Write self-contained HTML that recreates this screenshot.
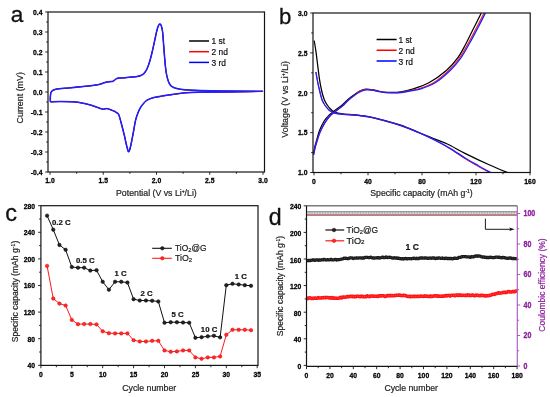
<!DOCTYPE html>
<html><head><meta charset="utf-8"><style>html,body{margin:0;padding:0;background:#fff;width:550px;height:397px;overflow:hidden}</style></head><body>
<svg width="550" height="397" viewBox="0 0 550 397" style="display:block;filter:blur(0.2px)">
<rect width="550" height="397" fill="#ffffff"/>
<g font-family='"Liberation Sans", sans-serif'>
<text x="10.80" y="21.60" font-size="22.6" text-anchor="start" font-weight="normal" fill="#111" stroke="#111" stroke-width="0.3" >a</text>
<path d="M50.30,101.50 C50.32,100.58 50.25,97.58 50.40,96.00 C50.55,94.42 50.68,93.00 51.20,92.00 C51.72,91.00 52.53,90.50 53.50,90.00 C54.47,89.50 55.58,89.27 57.00,89.00 C58.42,88.73 60.07,88.58 62.00,88.40 C63.93,88.22 65.60,88.17 68.60,87.90 C71.60,87.63 76.05,87.20 80.00,86.80 C83.95,86.40 88.97,85.93 92.30,85.50 C95.63,85.07 98.05,84.65 100.00,84.20 C101.95,83.75 102.83,83.18 104.00,82.80 C105.17,82.42 106.00,82.10 107.00,81.90 C108.00,81.70 109.10,81.68 110.00,81.60 C110.90,81.52 111.65,81.63 112.40,81.40 C113.15,81.17 113.82,80.67 114.50,80.20 C115.18,79.73 115.75,78.95 116.50,78.60 C117.25,78.25 117.58,78.25 119.00,78.10 C120.42,77.95 123.00,77.87 125.00,77.70 C127.00,77.53 129.00,77.30 131.00,77.10 C133.00,76.90 135.50,76.72 137.00,76.50 C138.50,76.28 138.97,76.18 140.00,75.80 C141.03,75.42 142.23,75.00 143.20,74.20 C144.17,73.40 144.98,72.33 145.80,71.00 C146.62,69.67 147.33,68.20 148.10,66.20 C148.87,64.20 149.67,61.62 150.40,59.00 C151.13,56.38 151.77,53.67 152.50,50.50 C153.23,47.33 154.05,43.42 154.80,40.00 C155.55,36.58 156.35,32.47 157.00,30.00 C157.65,27.53 158.22,26.20 158.70,25.20 C159.18,24.20 159.48,23.95 159.90,24.00 C160.32,24.05 160.75,24.17 161.20,25.50 C161.65,26.83 162.17,28.42 162.60,32.00 C163.03,35.58 163.40,42.00 163.80,47.00 C164.20,52.00 164.60,57.75 165.00,62.00 C165.40,66.25 165.73,69.58 166.20,72.50 C166.67,75.42 167.23,77.58 167.80,79.50 C168.37,81.42 168.90,82.82 169.60,84.00 C170.30,85.18 170.77,85.83 172.00,86.60 C173.23,87.37 174.83,88.07 177.00,88.60 C179.17,89.13 181.17,89.48 185.00,89.80 C188.83,90.12 192.50,90.28 200.00,90.50 C207.50,90.72 219.50,90.97 230.00,91.10 C240.50,91.23 263.00,91.17 263.00,91.30 C263.00,91.43 240.50,91.75 230.00,91.90 C219.50,92.05 207.50,92.05 200.00,92.20 C192.50,92.35 189.67,92.40 185.00,92.80 C180.33,93.20 176.17,94.00 172.00,94.60 C167.83,95.20 163.18,95.87 160.00,96.40 C156.82,96.93 155.07,97.17 152.90,97.80 C150.73,98.43 148.57,99.25 147.00,100.20 C145.43,101.15 144.58,102.28 143.50,103.50 C142.42,104.72 141.43,105.92 140.50,107.50 C139.57,109.08 138.73,110.83 137.90,113.00 C137.07,115.17 136.22,117.50 135.50,120.50 C134.78,123.50 134.27,127.42 133.60,131.00 C132.93,134.58 132.13,138.92 131.50,142.00 C130.87,145.08 130.28,147.87 129.80,149.50 C129.32,151.13 128.98,151.88 128.60,151.80 C128.22,151.72 127.93,150.47 127.50,149.00 C127.07,147.53 126.50,145.17 126.00,143.00 C125.50,140.83 125.08,138.50 124.50,136.00 C123.92,133.50 123.12,130.42 122.50,128.00 C121.88,125.58 121.43,123.75 120.80,121.50 C120.17,119.25 119.42,115.98 118.70,114.50 C117.98,113.02 117.22,113.13 116.50,112.60 C115.78,112.07 115.37,111.77 114.40,111.30 C113.43,110.83 111.67,110.20 110.70,109.80 C109.73,109.40 109.30,109.12 108.60,108.90 C107.90,108.68 107.18,108.50 106.50,108.50 C105.82,108.50 105.17,108.80 104.50,108.90 C103.83,109.00 103.92,109.43 102.50,109.10 C101.08,108.77 98.15,107.62 96.00,106.90 C93.85,106.18 91.93,105.45 89.60,104.80 C87.27,104.15 84.42,103.48 82.00,103.00 C79.58,102.52 78.68,102.15 75.10,101.90 C71.52,101.65 64.63,101.52 60.50,101.50 C56.37,101.48 52.00,101.75 50.30,101.80" fill="none" stroke="#000000" stroke-width="1.0" stroke-linejoin="round"/>
<path d="M50.30,101.65 C50.32,100.73 50.25,97.73 50.40,96.15 C50.55,94.57 50.68,93.15 51.20,92.15 C51.72,91.15 52.53,90.65 53.50,90.15 C54.47,89.65 55.58,89.42 57.00,89.15 C58.42,88.88 60.07,88.73 62.00,88.55 C63.93,88.37 65.60,88.32 68.60,88.05 C71.60,87.78 76.05,87.35 80.00,86.95 C83.95,86.55 88.97,86.08 92.30,85.65 C95.63,85.22 98.05,84.80 100.00,84.35 C101.95,83.90 102.83,83.33 104.00,82.95 C105.17,82.57 106.00,82.25 107.00,82.05 C108.00,81.85 109.10,81.83 110.00,81.75 C110.90,81.67 111.65,81.78 112.40,81.55 C113.15,81.32 113.82,80.82 114.50,80.35 C115.18,79.88 115.75,79.10 116.50,78.75 C117.25,78.40 117.58,78.40 119.00,78.25 C120.42,78.10 123.00,78.02 125.00,77.85 C127.00,77.68 129.00,77.45 131.00,77.25 C133.00,77.05 135.50,76.87 137.00,76.65 C138.50,76.43 138.97,76.33 140.00,75.95 C141.03,75.57 142.23,75.15 143.20,74.35 C144.17,73.55 144.98,72.48 145.80,71.15 C146.62,69.82 147.33,68.35 148.10,66.35 C148.87,64.35 149.67,61.77 150.40,59.15 C151.13,56.53 151.77,53.82 152.50,50.65 C153.23,47.48 154.05,43.57 154.80,40.15 C155.55,36.73 156.35,32.62 157.00,30.15 C157.65,27.68 158.22,26.35 158.70,25.35 C159.18,24.35 159.48,24.10 159.90,24.15 C160.32,24.20 160.75,24.32 161.20,25.65 C161.65,26.98 162.17,28.57 162.60,32.15 C163.03,35.73 163.40,42.15 163.80,47.15 C164.20,52.15 164.60,57.90 165.00,62.15 C165.40,66.40 165.73,69.73 166.20,72.65 C166.67,75.57 167.23,77.73 167.80,79.65 C168.37,81.57 168.90,82.97 169.60,84.15 C170.30,85.33 170.77,85.98 172.00,86.75 C173.23,87.52 174.83,88.22 177.00,88.75 C179.17,89.28 181.17,89.63 185.00,89.95 C188.83,90.27 192.50,90.43 200.00,90.65 C207.50,90.87 219.50,91.12 230.00,91.25 C240.50,91.38 263.00,91.32 263.00,91.45 C263.00,91.58 240.50,91.90 230.00,92.05 C219.50,92.20 207.50,92.20 200.00,92.35 C192.50,92.50 189.67,92.55 185.00,92.95 C180.33,93.35 176.17,94.15 172.00,94.75 C167.83,95.35 163.18,96.02 160.00,96.55 C156.82,97.08 155.07,97.32 152.90,97.95 C150.73,98.58 148.57,99.40 147.00,100.35 C145.43,101.30 144.58,102.43 143.50,103.65 C142.42,104.87 141.43,106.07 140.50,107.65 C139.57,109.23 138.73,110.98 137.90,113.15 C137.07,115.32 136.22,117.65 135.50,120.65 C134.78,123.65 134.27,127.57 133.60,131.15 C132.93,134.73 132.13,139.07 131.50,142.15 C130.87,145.23 130.28,148.02 129.80,149.65 C129.32,151.28 128.98,152.03 128.60,151.95 C128.22,151.87 127.93,150.62 127.50,149.15 C127.07,147.68 126.50,145.32 126.00,143.15 C125.50,140.98 125.08,138.65 124.50,136.15 C123.92,133.65 123.12,130.57 122.50,128.15 C121.88,125.73 121.43,123.90 120.80,121.65 C120.17,119.40 119.42,116.13 118.70,114.65 C117.98,113.17 117.22,113.28 116.50,112.75 C115.78,112.22 115.37,111.92 114.40,111.45 C113.43,110.98 111.67,110.35 110.70,109.95 C109.73,109.55 109.30,109.27 108.60,109.05 C107.90,108.83 107.18,108.65 106.50,108.65 C105.82,108.65 105.17,108.95 104.50,109.05 C103.83,109.15 103.92,109.58 102.50,109.25 C101.08,108.92 98.15,107.77 96.00,107.05 C93.85,106.33 91.93,105.60 89.60,104.95 C87.27,104.30 84.42,103.63 82.00,103.15 C79.58,102.67 78.68,102.30 75.10,102.05 C71.52,101.80 64.63,101.67 60.50,101.65 C56.37,101.63 52.00,101.90 50.30,101.95" fill="none" stroke="#ff2020" stroke-width="1.0" stroke-linejoin="round"/>
<path d="M50.30,101.50 C50.32,100.58 50.25,97.58 50.40,96.00 C50.55,94.42 50.68,93.00 51.20,92.00 C51.72,91.00 52.53,90.50 53.50,90.00 C54.47,89.50 55.58,89.27 57.00,89.00 C58.42,88.73 60.07,88.58 62.00,88.40 C63.93,88.22 65.60,88.17 68.60,87.90 C71.60,87.63 76.05,87.20 80.00,86.80 C83.95,86.40 88.97,85.93 92.30,85.50 C95.63,85.07 98.05,84.65 100.00,84.20 C101.95,83.75 102.83,83.18 104.00,82.80 C105.17,82.42 106.00,82.10 107.00,81.90 C108.00,81.70 109.10,81.68 110.00,81.60 C110.90,81.52 111.65,81.63 112.40,81.40 C113.15,81.17 113.82,80.67 114.50,80.20 C115.18,79.73 115.75,78.95 116.50,78.60 C117.25,78.25 117.58,78.25 119.00,78.10 C120.42,77.95 123.00,77.87 125.00,77.70 C127.00,77.53 129.00,77.30 131.00,77.10 C133.00,76.90 135.50,76.72 137.00,76.50 C138.50,76.28 138.97,76.18 140.00,75.80 C141.03,75.42 142.23,75.00 143.20,74.20 C144.17,73.40 144.98,72.33 145.80,71.00 C146.62,69.67 147.33,68.20 148.10,66.20 C148.87,64.20 149.67,61.62 150.40,59.00 C151.13,56.38 151.77,53.67 152.50,50.50 C153.23,47.33 154.05,43.42 154.80,40.00 C155.55,36.58 156.35,32.47 157.00,30.00 C157.65,27.53 158.22,26.20 158.70,25.20 C159.18,24.20 159.48,23.95 159.90,24.00 C160.32,24.05 160.75,24.17 161.20,25.50 C161.65,26.83 162.17,28.42 162.60,32.00 C163.03,35.58 163.40,42.00 163.80,47.00 C164.20,52.00 164.60,57.75 165.00,62.00 C165.40,66.25 165.73,69.58 166.20,72.50 C166.67,75.42 167.23,77.58 167.80,79.50 C168.37,81.42 168.90,82.82 169.60,84.00 C170.30,85.18 170.77,85.83 172.00,86.60 C173.23,87.37 174.83,88.07 177.00,88.60 C179.17,89.13 181.17,89.48 185.00,89.80 C188.83,90.12 192.50,90.28 200.00,90.50 C207.50,90.72 219.50,90.97 230.00,91.10 C240.50,91.23 263.00,91.17 263.00,91.30 C263.00,91.43 240.50,91.75 230.00,91.90 C219.50,92.05 207.50,92.05 200.00,92.20 C192.50,92.35 189.67,92.40 185.00,92.80 C180.33,93.20 176.17,94.00 172.00,94.60 C167.83,95.20 163.18,95.87 160.00,96.40 C156.82,96.93 155.07,97.17 152.90,97.80 C150.73,98.43 148.57,99.25 147.00,100.20 C145.43,101.15 144.58,102.28 143.50,103.50 C142.42,104.72 141.43,105.92 140.50,107.50 C139.57,109.08 138.73,110.83 137.90,113.00 C137.07,115.17 136.22,117.50 135.50,120.50 C134.78,123.50 134.27,127.42 133.60,131.00 C132.93,134.58 132.13,138.92 131.50,142.00 C130.87,145.08 130.28,147.87 129.80,149.50 C129.32,151.13 128.98,151.88 128.60,151.80 C128.22,151.72 127.93,150.47 127.50,149.00 C127.07,147.53 126.50,145.17 126.00,143.00 C125.50,140.83 125.08,138.50 124.50,136.00 C123.92,133.50 123.12,130.42 122.50,128.00 C121.88,125.58 121.43,123.75 120.80,121.50 C120.17,119.25 119.42,115.98 118.70,114.50 C117.98,113.02 117.22,113.13 116.50,112.60 C115.78,112.07 115.37,111.77 114.40,111.30 C113.43,110.83 111.67,110.20 110.70,109.80 C109.73,109.40 109.30,109.12 108.60,108.90 C107.90,108.68 107.18,108.50 106.50,108.50 C105.82,108.50 105.17,108.80 104.50,108.90 C103.83,109.00 103.92,109.43 102.50,109.10 C101.08,108.77 98.15,107.62 96.00,106.90 C93.85,106.18 91.93,105.45 89.60,104.80 C87.27,104.15 84.42,103.48 82.00,103.00 C79.58,102.52 78.68,102.15 75.10,101.90 C71.52,101.65 64.63,101.52 60.50,101.50 C56.37,101.48 52.00,101.75 50.30,101.80" fill="none" stroke="#1f1fff" stroke-width="1.55" stroke-linejoin="round"/>
<rect x="48" y="12" width="216.5" height="160" fill="none" stroke="#141414" stroke-width="1.2"/>
<line x1="50.00" y1="172.00" x2="50.00" y2="174.80" stroke="#141414" stroke-width="0.9"/>
<line x1="103.25" y1="172.00" x2="103.25" y2="174.80" stroke="#141414" stroke-width="0.9"/>
<line x1="156.50" y1="172.00" x2="156.50" y2="174.80" stroke="#141414" stroke-width="0.9"/>
<line x1="209.75" y1="172.00" x2="209.75" y2="174.80" stroke="#141414" stroke-width="0.9"/>
<line x1="263.00" y1="172.00" x2="263.00" y2="174.80" stroke="#141414" stroke-width="0.9"/>
<line x1="76.62" y1="172.00" x2="76.62" y2="173.80" stroke="#141414" stroke-width="0.9"/>
<line x1="129.88" y1="172.00" x2="129.88" y2="173.80" stroke="#141414" stroke-width="0.9"/>
<line x1="183.12" y1="172.00" x2="183.12" y2="173.80" stroke="#141414" stroke-width="0.9"/>
<line x1="236.38" y1="172.00" x2="236.38" y2="173.80" stroke="#141414" stroke-width="0.9"/>
<line x1="48.00" y1="172.00" x2="45.20" y2="172.00" stroke="#141414" stroke-width="0.9"/>
<line x1="48.00" y1="152.00" x2="45.20" y2="152.00" stroke="#141414" stroke-width="0.9"/>
<line x1="48.00" y1="132.00" x2="45.20" y2="132.00" stroke="#141414" stroke-width="0.9"/>
<line x1="48.00" y1="112.00" x2="45.20" y2="112.00" stroke="#141414" stroke-width="0.9"/>
<line x1="48.00" y1="92.00" x2="45.20" y2="92.00" stroke="#141414" stroke-width="0.9"/>
<line x1="48.00" y1="72.00" x2="45.20" y2="72.00" stroke="#141414" stroke-width="0.9"/>
<line x1="48.00" y1="52.00" x2="45.20" y2="52.00" stroke="#141414" stroke-width="0.9"/>
<line x1="48.00" y1="32.00" x2="45.20" y2="32.00" stroke="#141414" stroke-width="0.9"/>
<line x1="48.00" y1="12.00" x2="45.20" y2="12.00" stroke="#141414" stroke-width="0.9"/>
<line x1="48.00" y1="162.00" x2="46.20" y2="162.00" stroke="#141414" stroke-width="0.9"/>
<line x1="48.00" y1="142.00" x2="46.20" y2="142.00" stroke="#141414" stroke-width="0.9"/>
<line x1="48.00" y1="122.00" x2="46.20" y2="122.00" stroke="#141414" stroke-width="0.9"/>
<line x1="48.00" y1="102.00" x2="46.20" y2="102.00" stroke="#141414" stroke-width="0.9"/>
<line x1="48.00" y1="82.00" x2="46.20" y2="82.00" stroke="#141414" stroke-width="0.9"/>
<line x1="48.00" y1="62.00" x2="46.20" y2="62.00" stroke="#141414" stroke-width="0.9"/>
<line x1="48.00" y1="42.00" x2="46.20" y2="42.00" stroke="#141414" stroke-width="0.9"/>
<line x1="48.00" y1="22.00" x2="46.20" y2="22.00" stroke="#141414" stroke-width="0.9"/>
<text transform="translate(42.50,174.84) scale(0.86,1)" font-size="7.9" text-anchor="end" font-weight="bold" fill="#000" stroke="#000" stroke-width="0.3">-0.4</text>
<text transform="translate(42.50,154.84) scale(0.86,1)" font-size="7.9" text-anchor="end" font-weight="bold" fill="#000" stroke="#000" stroke-width="0.3">-0.3</text>
<text transform="translate(42.50,134.84) scale(0.86,1)" font-size="7.9" text-anchor="end" font-weight="bold" fill="#000" stroke="#000" stroke-width="0.3">-0.2</text>
<text transform="translate(42.50,114.84) scale(0.86,1)" font-size="7.9" text-anchor="end" font-weight="bold" fill="#000" stroke="#000" stroke-width="0.3">-0.1</text>
<text transform="translate(42.50,94.84) scale(0.86,1)" font-size="7.9" text-anchor="end" font-weight="bold" fill="#000" stroke="#000" stroke-width="0.3">0.0</text>
<text transform="translate(42.50,74.84) scale(0.86,1)" font-size="7.9" text-anchor="end" font-weight="bold" fill="#000" stroke="#000" stroke-width="0.3">0.1</text>
<text transform="translate(42.50,54.84) scale(0.86,1)" font-size="7.9" text-anchor="end" font-weight="bold" fill="#000" stroke="#000" stroke-width="0.3">0.2</text>
<text transform="translate(42.50,34.84) scale(0.86,1)" font-size="7.9" text-anchor="end" font-weight="bold" fill="#000" stroke="#000" stroke-width="0.3">0.3</text>
<text transform="translate(42.50,14.84) scale(0.86,1)" font-size="7.9" text-anchor="end" font-weight="bold" fill="#000" stroke="#000" stroke-width="0.3">0.4</text>
<text transform="translate(50.00,183.44) scale(0.86,1)" font-size="7.9" text-anchor="middle" font-weight="bold" fill="#000" stroke="#000" stroke-width="0.3">1.0</text>
<text transform="translate(103.25,183.44) scale(0.86,1)" font-size="7.9" text-anchor="middle" font-weight="bold" fill="#000" stroke="#000" stroke-width="0.3">1.5</text>
<text transform="translate(156.50,183.44) scale(0.86,1)" font-size="7.9" text-anchor="middle" font-weight="bold" fill="#000" stroke="#000" stroke-width="0.3">2.0</text>
<text transform="translate(209.75,183.44) scale(0.86,1)" font-size="7.9" text-anchor="middle" font-weight="bold" fill="#000" stroke="#000" stroke-width="0.3">2.5</text>
<text transform="translate(263.00,183.44) scale(0.86,1)" font-size="7.9" text-anchor="middle" font-weight="bold" fill="#000" stroke="#000" stroke-width="0.3">3.0</text>
<text x="156.40" y="195.90" font-size="8.75" text-anchor="middle" font-weight="normal" fill="#222" stroke="#222" stroke-width="0.2" >Potential (V vs Li<tspan font-size="5" dy="-3">+</tspan><tspan dy="3">/Li)</tspan></text>
<text transform="translate(23.2,97.75) rotate(-90)" font-size="8.9" text-anchor="middle" fill="#222" stroke="#222" stroke-width="0.2">Current (mV)</text>
<line x1="189.10" y1="41.00" x2="209.00" y2="41.00" stroke="#000" stroke-width="1.5"/>
<text x="211.50" y="44.40" font-size="8.4" text-anchor="start" font-weight="normal" fill="#111" stroke="#111" stroke-width="0.2" >1 st</text>
<line x1="189.10" y1="51.70" x2="209.00" y2="51.70" stroke="#ff0000" stroke-width="1.5"/>
<text x="211.50" y="55.10" font-size="8.4" text-anchor="start" font-weight="normal" fill="#111" stroke="#111" stroke-width="0.2" >2 nd</text>
<line x1="189.10" y1="62.40" x2="209.00" y2="62.40" stroke="#0000ff" stroke-width="1.5"/>
<text x="211.50" y="65.80" font-size="8.4" text-anchor="start" font-weight="normal" fill="#111" stroke="#111" stroke-width="0.2" >3 rd</text>
<text x="279.00" y="23.60" font-size="22.2" text-anchor="start" font-weight="normal" fill="#111" stroke="#111" stroke-width="0.3" >b</text>
<clipPath id="cb"><rect x="313" y="13" width="217" height="159.5"/></clipPath>
<g clip-path="url(#cb)">
<path d="M314.20,40.60 C314.48,42.37 315.32,47.08 315.90,51.20 C316.48,55.32 317.10,60.60 317.70,65.30 C318.30,70.00 318.85,75.20 319.50,79.40 C320.15,83.60 320.82,87.15 321.60,90.50 C322.38,93.85 323.27,97.08 324.20,99.50 C325.13,101.92 326.15,103.42 327.20,105.00 C328.25,106.58 329.32,107.83 330.50,109.00 C331.68,110.17 332.25,111.18 334.30,112.00 C336.35,112.82 338.65,113.35 342.80,113.90 C346.95,114.45 354.67,114.82 359.20,115.30 C363.73,115.78 363.20,115.22 370.00,116.80 C376.80,118.38 391.67,122.10 400.00,124.80 C408.33,127.50 414.50,130.75 420.00,133.00 C425.50,135.25 428.45,136.47 433.00,138.30 C437.55,140.13 441.88,141.45 447.30,144.00 C452.72,146.55 458.53,150.13 465.50,153.60 C472.47,157.07 481.68,161.47 489.10,164.80 C496.52,168.13 506.52,172.13 510.00,173.60" fill="none" stroke="#000" stroke-width="1.25"/>
<path d="M313.60,153.00 C313.83,151.83 314.50,148.08 315.00,146.00 C315.50,143.92 315.85,143.08 316.60,140.50 C317.35,137.92 318.18,133.83 319.50,130.50 C320.82,127.17 322.83,123.12 324.50,120.50 C326.17,117.88 327.87,116.38 329.50,114.80 C331.13,113.22 332.08,112.72 334.30,111.00 C336.52,109.28 340.52,106.42 342.80,104.50 C345.08,102.58 346.05,101.17 348.00,99.50 C349.95,97.83 352.43,95.95 354.50,94.50 C356.57,93.05 358.48,91.68 360.40,90.80 C362.32,89.92 364.07,89.38 366.00,89.20 C367.93,89.02 370.03,89.42 372.00,89.70 C373.97,89.98 375.87,90.52 377.80,90.90 C379.73,91.28 381.42,91.75 383.60,92.00 C385.78,92.25 388.00,92.43 390.90,92.40 C393.80,92.37 397.40,92.35 401.00,91.80 C404.60,91.25 407.85,90.60 412.50,89.10 C417.15,87.60 423.22,85.95 428.90,82.80 C434.58,79.65 441.77,74.40 446.60,70.20 C451.43,66.00 454.75,61.88 457.90,57.60 C461.05,53.32 462.90,49.35 465.50,44.50 C468.10,39.65 470.87,33.75 473.50,28.50 C476.13,23.25 480.00,15.58 481.30,13.00" fill="none" stroke="#000" stroke-width="1.25"/>
<path d="M315.90,72.00 C316.12,73.25 316.75,77.10 317.20,79.50 C317.65,81.90 318.08,84.07 318.60,86.40 C319.12,88.73 319.72,91.23 320.30,93.50 C320.88,95.77 321.35,98.08 322.10,100.00 C322.85,101.92 323.90,103.58 324.80,105.00 C325.70,106.42 326.55,107.47 327.50,108.50 C328.45,109.53 329.37,110.45 330.50,111.20 C331.63,111.95 332.25,112.48 334.30,113.00 C336.35,113.52 338.65,113.88 342.80,114.30 C346.95,114.72 354.67,115.02 359.20,115.50 C363.73,115.98 366.53,116.52 370.00,117.20 C373.47,117.88 375.00,118.25 380.00,119.60 C385.00,120.95 393.33,123.05 400.00,125.30 C406.67,127.55 413.63,130.35 420.00,133.10 C426.37,135.85 433.19,139.18 438.20,141.80 C443.21,144.42 445.78,146.07 450.08,148.80 C454.38,151.53 459.60,155.42 464.00,158.20 C468.40,160.98 472.00,162.93 476.50,165.50 C481.00,168.07 488.58,172.25 491.00,173.60" fill="none" stroke="#ff1a1a" stroke-width="1.0"/>
<path d="M313.60,154.80 C313.83,153.67 314.50,150.05 315.00,148.00 C315.50,145.95 315.80,145.05 316.60,142.50 C317.40,139.95 318.43,135.97 319.80,132.70 C321.17,129.43 323.15,125.63 324.80,122.90 C326.45,120.17 328.12,118.08 329.70,116.30 C331.28,114.52 332.12,113.97 334.30,112.20 C336.48,110.43 340.52,107.65 342.80,105.70 C345.08,103.75 346.05,102.23 348.00,100.50 C349.95,98.77 352.63,96.83 354.50,95.30 C356.37,93.77 357.45,92.25 359.20,91.30 C360.95,90.35 363.07,89.83 365.00,89.60 C366.93,89.37 368.87,89.67 370.80,89.90 C372.73,90.13 374.47,90.58 376.60,91.00 C378.73,91.42 381.22,92.10 383.60,92.40 C385.98,92.70 388.00,92.78 390.90,92.80 C393.80,92.82 398.05,92.85 401.00,92.50 C403.95,92.15 405.62,91.32 408.60,90.70 C411.58,90.08 414.67,90.17 418.90,88.80 C423.13,87.43 428.95,85.65 434.00,82.50 C439.05,79.35 444.88,74.10 449.20,69.90 C453.52,65.70 456.63,61.92 459.90,57.30 C463.17,52.68 465.98,47.22 468.80,42.20 C471.62,37.18 474.23,32.12 476.80,27.20 C479.37,22.28 482.97,15.12 484.20,12.70" fill="none" stroke="#ff1a1a" stroke-width="1.1"/>
<path d="M315.90,72.00 C316.12,73.25 316.75,77.10 317.20,79.50 C317.65,81.90 318.08,84.07 318.60,86.40 C319.12,88.73 319.72,91.23 320.30,93.50 C320.88,95.77 321.35,98.08 322.10,100.00 C322.85,101.92 323.90,103.58 324.80,105.00 C325.70,106.42 326.55,107.47 327.50,108.50 C328.45,109.53 329.37,110.45 330.50,111.20 C331.63,111.95 332.25,112.48 334.30,113.00 C336.35,113.52 338.65,113.88 342.80,114.30 C346.95,114.72 354.67,115.02 359.20,115.50 C363.73,115.98 366.53,116.52 370.00,117.20 C373.47,117.88 375.00,118.25 380.00,119.60 C385.00,120.95 393.33,123.05 400.00,125.30 C406.67,127.55 413.63,130.35 420.00,133.10 C426.37,135.85 433.05,139.18 438.20,141.80 C443.35,144.42 446.35,146.07 450.90,148.80 C455.45,151.53 460.98,155.42 465.50,158.20 C470.02,160.98 473.50,162.93 478.00,165.50 C482.50,168.07 490.08,172.25 492.50,173.60" fill="none" stroke="#1f1fff" stroke-width="1.35"/>
<path d="M313.60,154.80 C313.83,153.67 314.50,150.05 315.00,148.00 C315.50,145.95 315.80,145.05 316.60,142.50 C317.40,139.95 318.43,135.97 319.80,132.70 C321.17,129.43 323.15,125.63 324.80,122.90 C326.45,120.17 328.12,118.08 329.70,116.30 C331.28,114.52 332.12,113.97 334.30,112.20 C336.48,110.43 340.52,107.65 342.80,105.70 C345.08,103.75 346.05,102.23 348.00,100.50 C349.95,98.77 352.43,96.78 354.50,95.30 C356.57,93.82 358.45,92.50 360.40,91.60 C362.35,90.70 364.27,90.13 366.20,89.90 C368.13,89.67 370.07,89.97 372.00,90.20 C373.93,90.43 375.87,90.93 377.80,91.30 C379.73,91.67 381.42,92.15 383.60,92.40 C385.78,92.65 388.00,92.78 390.90,92.80 C393.80,92.82 397.85,92.80 401.00,92.50 C404.15,92.20 406.62,91.57 409.80,91.00 C412.98,90.43 415.87,90.47 420.10,89.10 C424.33,87.73 430.15,85.95 435.20,82.80 C440.25,79.65 446.08,74.40 450.40,70.20 C454.72,66.00 457.83,62.22 461.10,57.60 C464.37,52.98 467.18,47.52 470.00,42.50 C472.82,37.48 475.43,32.42 478.00,27.50 C480.57,22.58 484.17,15.42 485.40,13.00" fill="none" stroke="#1f1fff" stroke-width="1.3"/>
</g>
<rect x="313" y="13" width="217.20000000000005" height="159.5" fill="none" stroke="#141414" stroke-width="1.2"/>
<line x1="314.00" y1="172.50" x2="314.00" y2="175.30" stroke="#141414" stroke-width="0.9"/>
<line x1="368.00" y1="172.50" x2="368.00" y2="175.30" stroke="#141414" stroke-width="0.9"/>
<line x1="422.00" y1="172.50" x2="422.00" y2="175.30" stroke="#141414" stroke-width="0.9"/>
<line x1="476.00" y1="172.50" x2="476.00" y2="175.30" stroke="#141414" stroke-width="0.9"/>
<line x1="530.00" y1="172.50" x2="530.00" y2="175.30" stroke="#141414" stroke-width="0.9"/>
<line x1="341.00" y1="172.50" x2="341.00" y2="174.30" stroke="#141414" stroke-width="0.9"/>
<line x1="395.00" y1="172.50" x2="395.00" y2="174.30" stroke="#141414" stroke-width="0.9"/>
<line x1="449.00" y1="172.50" x2="449.00" y2="174.30" stroke="#141414" stroke-width="0.9"/>
<line x1="503.00" y1="172.50" x2="503.00" y2="174.30" stroke="#141414" stroke-width="0.9"/>
<line x1="313.00" y1="172.50" x2="310.20" y2="172.50" stroke="#141414" stroke-width="0.9"/>
<line x1="313.00" y1="132.62" x2="310.20" y2="132.62" stroke="#141414" stroke-width="0.9"/>
<line x1="313.00" y1="92.75" x2="310.20" y2="92.75" stroke="#141414" stroke-width="0.9"/>
<line x1="313.00" y1="52.88" x2="310.20" y2="52.88" stroke="#141414" stroke-width="0.9"/>
<line x1="313.00" y1="13.00" x2="310.20" y2="13.00" stroke="#141414" stroke-width="0.9"/>
<line x1="313.00" y1="152.56" x2="311.20" y2="152.56" stroke="#141414" stroke-width="0.9"/>
<line x1="313.00" y1="112.69" x2="311.20" y2="112.69" stroke="#141414" stroke-width="0.9"/>
<line x1="313.00" y1="72.81" x2="311.20" y2="72.81" stroke="#141414" stroke-width="0.9"/>
<line x1="313.00" y1="32.94" x2="311.20" y2="32.94" stroke="#141414" stroke-width="0.9"/>
<text transform="translate(307.50,175.34) scale(0.86,1)" font-size="7.9" text-anchor="end" font-weight="bold" fill="#000" stroke="#000" stroke-width="0.3">1.0</text>
<text transform="translate(307.50,135.47) scale(0.86,1)" font-size="7.9" text-anchor="end" font-weight="bold" fill="#000" stroke="#000" stroke-width="0.3">1.5</text>
<text transform="translate(307.50,95.59) scale(0.86,1)" font-size="7.9" text-anchor="end" font-weight="bold" fill="#000" stroke="#000" stroke-width="0.3">2.0</text>
<text transform="translate(307.50,55.72) scale(0.86,1)" font-size="7.9" text-anchor="end" font-weight="bold" fill="#000" stroke="#000" stroke-width="0.3">2.5</text>
<text transform="translate(307.50,15.84) scale(0.86,1)" font-size="7.9" text-anchor="end" font-weight="bold" fill="#000" stroke="#000" stroke-width="0.3">3.0</text>
<text transform="translate(314.00,184.44) scale(0.86,1)" font-size="7.9" text-anchor="middle" font-weight="bold" fill="#000" stroke="#000" stroke-width="0.3">0</text>
<text transform="translate(368.00,184.44) scale(0.86,1)" font-size="7.9" text-anchor="middle" font-weight="bold" fill="#000" stroke="#000" stroke-width="0.3">40</text>
<text transform="translate(422.00,184.44) scale(0.86,1)" font-size="7.9" text-anchor="middle" font-weight="bold" fill="#000" stroke="#000" stroke-width="0.3">80</text>
<text transform="translate(476.00,184.44) scale(0.86,1)" font-size="7.9" text-anchor="middle" font-weight="bold" fill="#000" stroke="#000" stroke-width="0.3">120</text>
<text transform="translate(530.00,184.44) scale(0.86,1)" font-size="7.9" text-anchor="middle" font-weight="bold" fill="#000" stroke="#000" stroke-width="0.3">160</text>
<text x="421.50" y="196.10" font-size="8.7" text-anchor="middle" font-weight="normal" fill="#222" stroke="#222" stroke-width="0.2" >Specific capacity (mAh g<tspan font-size="5" dy="-3">-1</tspan><tspan dy="3">)</tspan></text>
<text transform="translate(287.7,99.3) rotate(-90)" font-size="8.85" text-anchor="middle" fill="#222" stroke="#222" stroke-width="0.2">Voltage (V vs Li<tspan font-size="5" dy="-3">+</tspan><tspan dy="3">/Li)</tspan></text>
<line x1="376.60" y1="39.50" x2="396.60" y2="39.50" stroke="#000" stroke-width="1.5"/>
<text x="398.40" y="43.00" font-size="8.4" text-anchor="start" font-weight="normal" fill="#111" stroke="#111" stroke-width="0.2" >1 st</text>
<line x1="376.60" y1="50.25" x2="396.60" y2="50.25" stroke="#ff0000" stroke-width="1.5"/>
<text x="398.40" y="53.75" font-size="8.4" text-anchor="start" font-weight="normal" fill="#111" stroke="#111" stroke-width="0.2" >2 nd</text>
<line x1="376.60" y1="61.00" x2="396.60" y2="61.00" stroke="#0000ff" stroke-width="1.5"/>
<text x="398.40" y="64.50" font-size="8.4" text-anchor="start" font-weight="normal" fill="#111" stroke="#111" stroke-width="0.2" >3 rd</text>
<text x="5.20" y="220.60" font-size="23.5" text-anchor="start" font-weight="normal" fill="#111" stroke="#111" stroke-width="0.3" >c</text>
<polyline points="47.08,215.67 53.26,229.64 59.44,244.94 65.62,249.79 71.80,267.01 77.98,267.68 84.16,267.68 90.34,270.60 96.52,270.20 102.70,281.78 108.88,289.69 115.06,281.78 121.24,281.78 127.42,282.57 133.60,299.13 139.78,300.53 145.96,300.53 152.14,300.79 158.32,301.46 164.50,322.74 170.68,322.21 176.86,322.21 183.04,322.54 189.22,322.74 195.40,337.77 201.58,337.17 207.76,336.37 213.94,335.77 220.12,337.37 226.30,285.17 232.48,283.77 238.66,284.50 244.84,285.17 251.02,285.83" fill="none" stroke="#111" stroke-width="1"/>
<circle cx="47.08" cy="215.67" r="1.75" fill="#222" stroke="#000" stroke-width="0.5"/>
<circle cx="53.26" cy="229.64" r="1.75" fill="#222" stroke="#000" stroke-width="0.5"/>
<circle cx="59.44" cy="244.94" r="1.75" fill="#222" stroke="#000" stroke-width="0.5"/>
<circle cx="65.62" cy="249.79" r="1.75" fill="#222" stroke="#000" stroke-width="0.5"/>
<circle cx="71.80" cy="267.01" r="1.75" fill="#222" stroke="#000" stroke-width="0.5"/>
<circle cx="77.98" cy="267.68" r="1.75" fill="#222" stroke="#000" stroke-width="0.5"/>
<circle cx="84.16" cy="267.68" r="1.75" fill="#222" stroke="#000" stroke-width="0.5"/>
<circle cx="90.34" cy="270.60" r="1.75" fill="#222" stroke="#000" stroke-width="0.5"/>
<circle cx="96.52" cy="270.20" r="1.75" fill="#222" stroke="#000" stroke-width="0.5"/>
<circle cx="102.70" cy="281.78" r="1.75" fill="#222" stroke="#000" stroke-width="0.5"/>
<circle cx="108.88" cy="289.69" r="1.75" fill="#222" stroke="#000" stroke-width="0.5"/>
<circle cx="115.06" cy="281.78" r="1.75" fill="#222" stroke="#000" stroke-width="0.5"/>
<circle cx="121.24" cy="281.78" r="1.75" fill="#222" stroke="#000" stroke-width="0.5"/>
<circle cx="127.42" cy="282.57" r="1.75" fill="#222" stroke="#000" stroke-width="0.5"/>
<circle cx="133.60" cy="299.13" r="1.75" fill="#222" stroke="#000" stroke-width="0.5"/>
<circle cx="139.78" cy="300.53" r="1.75" fill="#222" stroke="#000" stroke-width="0.5"/>
<circle cx="145.96" cy="300.53" r="1.75" fill="#222" stroke="#000" stroke-width="0.5"/>
<circle cx="152.14" cy="300.79" r="1.75" fill="#222" stroke="#000" stroke-width="0.5"/>
<circle cx="158.32" cy="301.46" r="1.75" fill="#222" stroke="#000" stroke-width="0.5"/>
<circle cx="164.50" cy="322.74" r="1.75" fill="#222" stroke="#000" stroke-width="0.5"/>
<circle cx="170.68" cy="322.21" r="1.75" fill="#222" stroke="#000" stroke-width="0.5"/>
<circle cx="176.86" cy="322.21" r="1.75" fill="#222" stroke="#000" stroke-width="0.5"/>
<circle cx="183.04" cy="322.54" r="1.75" fill="#222" stroke="#000" stroke-width="0.5"/>
<circle cx="189.22" cy="322.74" r="1.75" fill="#222" stroke="#000" stroke-width="0.5"/>
<circle cx="195.40" cy="337.77" r="1.75" fill="#222" stroke="#000" stroke-width="0.5"/>
<circle cx="201.58" cy="337.17" r="1.75" fill="#222" stroke="#000" stroke-width="0.5"/>
<circle cx="207.76" cy="336.37" r="1.75" fill="#222" stroke="#000" stroke-width="0.5"/>
<circle cx="213.94" cy="335.77" r="1.75" fill="#222" stroke="#000" stroke-width="0.5"/>
<circle cx="220.12" cy="337.37" r="1.75" fill="#222" stroke="#000" stroke-width="0.5"/>
<circle cx="226.30" cy="285.17" r="1.75" fill="#222" stroke="#000" stroke-width="0.5"/>
<circle cx="232.48" cy="283.77" r="1.75" fill="#222" stroke="#000" stroke-width="0.5"/>
<circle cx="238.66" cy="284.50" r="1.75" fill="#222" stroke="#000" stroke-width="0.5"/>
<circle cx="244.84" cy="285.17" r="1.75" fill="#222" stroke="#000" stroke-width="0.5"/>
<circle cx="251.02" cy="285.83" r="1.75" fill="#222" stroke="#000" stroke-width="0.5"/>
<polyline points="47.08,265.88 53.26,298.60 59.44,303.59 65.62,305.52 71.80,319.88 77.98,324.14 84.16,324.07 90.34,324.07 96.52,324.40 102.70,331.32 108.88,333.18 115.06,333.38 121.24,333.38 127.42,333.38 133.60,340.23 139.78,341.49 145.96,341.49 152.14,340.83 158.32,340.83 164.50,350.40 170.68,351.80 176.86,351.40 183.04,350.40 189.22,350.40 195.40,357.39 201.58,358.78 207.76,357.39 213.94,357.39 220.12,356.39 226.30,334.78 232.48,329.79 238.66,329.79 244.84,329.79 251.02,330.19" fill="none" stroke="#ff1a1a" stroke-width="1"/>
<circle cx="47.08" cy="265.88" r="1.75" fill="#ff2a2a" stroke="#e00000" stroke-width="0.5"/>
<circle cx="53.26" cy="298.60" r="1.75" fill="#ff2a2a" stroke="#e00000" stroke-width="0.5"/>
<circle cx="59.44" cy="303.59" r="1.75" fill="#ff2a2a" stroke="#e00000" stroke-width="0.5"/>
<circle cx="65.62" cy="305.52" r="1.75" fill="#ff2a2a" stroke="#e00000" stroke-width="0.5"/>
<circle cx="71.80" cy="319.88" r="1.75" fill="#ff2a2a" stroke="#e00000" stroke-width="0.5"/>
<circle cx="77.98" cy="324.14" r="1.75" fill="#ff2a2a" stroke="#e00000" stroke-width="0.5"/>
<circle cx="84.16" cy="324.07" r="1.75" fill="#ff2a2a" stroke="#e00000" stroke-width="0.5"/>
<circle cx="90.34" cy="324.07" r="1.75" fill="#ff2a2a" stroke="#e00000" stroke-width="0.5"/>
<circle cx="96.52" cy="324.40" r="1.75" fill="#ff2a2a" stroke="#e00000" stroke-width="0.5"/>
<circle cx="102.70" cy="331.32" r="1.75" fill="#ff2a2a" stroke="#e00000" stroke-width="0.5"/>
<circle cx="108.88" cy="333.18" r="1.75" fill="#ff2a2a" stroke="#e00000" stroke-width="0.5"/>
<circle cx="115.06" cy="333.38" r="1.75" fill="#ff2a2a" stroke="#e00000" stroke-width="0.5"/>
<circle cx="121.24" cy="333.38" r="1.75" fill="#ff2a2a" stroke="#e00000" stroke-width="0.5"/>
<circle cx="127.42" cy="333.38" r="1.75" fill="#ff2a2a" stroke="#e00000" stroke-width="0.5"/>
<circle cx="133.60" cy="340.23" r="1.75" fill="#ff2a2a" stroke="#e00000" stroke-width="0.5"/>
<circle cx="139.78" cy="341.49" r="1.75" fill="#ff2a2a" stroke="#e00000" stroke-width="0.5"/>
<circle cx="145.96" cy="341.49" r="1.75" fill="#ff2a2a" stroke="#e00000" stroke-width="0.5"/>
<circle cx="152.14" cy="340.83" r="1.75" fill="#ff2a2a" stroke="#e00000" stroke-width="0.5"/>
<circle cx="158.32" cy="340.83" r="1.75" fill="#ff2a2a" stroke="#e00000" stroke-width="0.5"/>
<circle cx="164.50" cy="350.40" r="1.75" fill="#ff2a2a" stroke="#e00000" stroke-width="0.5"/>
<circle cx="170.68" cy="351.80" r="1.75" fill="#ff2a2a" stroke="#e00000" stroke-width="0.5"/>
<circle cx="176.86" cy="351.40" r="1.75" fill="#ff2a2a" stroke="#e00000" stroke-width="0.5"/>
<circle cx="183.04" cy="350.40" r="1.75" fill="#ff2a2a" stroke="#e00000" stroke-width="0.5"/>
<circle cx="189.22" cy="350.40" r="1.75" fill="#ff2a2a" stroke="#e00000" stroke-width="0.5"/>
<circle cx="195.40" cy="357.39" r="1.75" fill="#ff2a2a" stroke="#e00000" stroke-width="0.5"/>
<circle cx="201.58" cy="358.78" r="1.75" fill="#ff2a2a" stroke="#e00000" stroke-width="0.5"/>
<circle cx="207.76" cy="357.39" r="1.75" fill="#ff2a2a" stroke="#e00000" stroke-width="0.5"/>
<circle cx="213.94" cy="357.39" r="1.75" fill="#ff2a2a" stroke="#e00000" stroke-width="0.5"/>
<circle cx="220.12" cy="356.39" r="1.75" fill="#ff2a2a" stroke="#e00000" stroke-width="0.5"/>
<circle cx="226.30" cy="334.78" r="1.75" fill="#ff2a2a" stroke="#e00000" stroke-width="0.5"/>
<circle cx="232.48" cy="329.79" r="1.75" fill="#ff2a2a" stroke="#e00000" stroke-width="0.5"/>
<circle cx="238.66" cy="329.79" r="1.75" fill="#ff2a2a" stroke="#e00000" stroke-width="0.5"/>
<circle cx="244.84" cy="329.79" r="1.75" fill="#ff2a2a" stroke="#e00000" stroke-width="0.5"/>
<circle cx="251.02" cy="330.19" r="1.75" fill="#ff2a2a" stroke="#e00000" stroke-width="0.5"/>
<rect x="40.9" y="205.7" width="217.1" height="159.7" fill="none" stroke="#141414" stroke-width="1.2"/>
<line x1="40.90" y1="365.40" x2="40.90" y2="368.20" stroke="#141414" stroke-width="0.9"/>
<line x1="71.80" y1="365.40" x2="71.80" y2="368.20" stroke="#141414" stroke-width="0.9"/>
<line x1="102.70" y1="365.40" x2="102.70" y2="368.20" stroke="#141414" stroke-width="0.9"/>
<line x1="133.60" y1="365.40" x2="133.60" y2="368.20" stroke="#141414" stroke-width="0.9"/>
<line x1="164.50" y1="365.40" x2="164.50" y2="368.20" stroke="#141414" stroke-width="0.9"/>
<line x1="195.40" y1="365.40" x2="195.40" y2="368.20" stroke="#141414" stroke-width="0.9"/>
<line x1="226.30" y1="365.40" x2="226.30" y2="368.20" stroke="#141414" stroke-width="0.9"/>
<line x1="257.20" y1="365.40" x2="257.20" y2="368.20" stroke="#141414" stroke-width="0.9"/>
<line x1="56.35" y1="365.40" x2="56.35" y2="367.20" stroke="#141414" stroke-width="0.9"/>
<line x1="87.25" y1="365.40" x2="87.25" y2="367.20" stroke="#141414" stroke-width="0.9"/>
<line x1="118.15" y1="365.40" x2="118.15" y2="367.20" stroke="#141414" stroke-width="0.9"/>
<line x1="149.05" y1="365.40" x2="149.05" y2="367.20" stroke="#141414" stroke-width="0.9"/>
<line x1="179.95" y1="365.40" x2="179.95" y2="367.20" stroke="#141414" stroke-width="0.9"/>
<line x1="210.85" y1="365.40" x2="210.85" y2="367.20" stroke="#141414" stroke-width="0.9"/>
<line x1="241.75" y1="365.40" x2="241.75" y2="367.20" stroke="#141414" stroke-width="0.9"/>
<line x1="40.90" y1="365.30" x2="38.10" y2="365.30" stroke="#141414" stroke-width="0.9"/>
<line x1="40.90" y1="338.70" x2="38.10" y2="338.70" stroke="#141414" stroke-width="0.9"/>
<line x1="40.90" y1="312.10" x2="38.10" y2="312.10" stroke="#141414" stroke-width="0.9"/>
<line x1="40.90" y1="285.50" x2="38.10" y2="285.50" stroke="#141414" stroke-width="0.9"/>
<line x1="40.90" y1="258.90" x2="38.10" y2="258.90" stroke="#141414" stroke-width="0.9"/>
<line x1="40.90" y1="232.30" x2="38.10" y2="232.30" stroke="#141414" stroke-width="0.9"/>
<line x1="40.90" y1="205.70" x2="38.10" y2="205.70" stroke="#141414" stroke-width="0.9"/>
<line x1="40.90" y1="352.00" x2="39.10" y2="352.00" stroke="#141414" stroke-width="0.9"/>
<line x1="40.90" y1="325.40" x2="39.10" y2="325.40" stroke="#141414" stroke-width="0.9"/>
<line x1="40.90" y1="298.80" x2="39.10" y2="298.80" stroke="#141414" stroke-width="0.9"/>
<line x1="40.90" y1="272.20" x2="39.10" y2="272.20" stroke="#141414" stroke-width="0.9"/>
<line x1="40.90" y1="245.60" x2="39.10" y2="245.60" stroke="#141414" stroke-width="0.9"/>
<line x1="40.90" y1="219.00" x2="39.10" y2="219.00" stroke="#141414" stroke-width="0.9"/>
<text transform="translate(35.00,368.14) scale(0.86,1)" font-size="7.9" text-anchor="end" font-weight="bold" fill="#000" stroke="#000" stroke-width="0.3">40</text>
<text transform="translate(35.00,341.54) scale(0.86,1)" font-size="7.9" text-anchor="end" font-weight="bold" fill="#000" stroke="#000" stroke-width="0.3">80</text>
<text transform="translate(35.00,314.94) scale(0.86,1)" font-size="7.9" text-anchor="end" font-weight="bold" fill="#000" stroke="#000" stroke-width="0.3">120</text>
<text transform="translate(35.00,288.34) scale(0.86,1)" font-size="7.9" text-anchor="end" font-weight="bold" fill="#000" stroke="#000" stroke-width="0.3">160</text>
<text transform="translate(35.00,261.74) scale(0.86,1)" font-size="7.9" text-anchor="end" font-weight="bold" fill="#000" stroke="#000" stroke-width="0.3">200</text>
<text transform="translate(35.00,235.14) scale(0.86,1)" font-size="7.9" text-anchor="end" font-weight="bold" fill="#000" stroke="#000" stroke-width="0.3">240</text>
<text transform="translate(35.00,208.54) scale(0.86,1)" font-size="7.9" text-anchor="end" font-weight="bold" fill="#000" stroke="#000" stroke-width="0.3">280</text>
<text transform="translate(40.90,377.04) scale(0.86,1)" font-size="7.9" text-anchor="middle" font-weight="bold" fill="#000" stroke="#000" stroke-width="0.3">0</text>
<text transform="translate(71.80,377.04) scale(0.86,1)" font-size="7.9" text-anchor="middle" font-weight="bold" fill="#000" stroke="#000" stroke-width="0.3">5</text>
<text transform="translate(102.70,377.04) scale(0.86,1)" font-size="7.9" text-anchor="middle" font-weight="bold" fill="#000" stroke="#000" stroke-width="0.3">10</text>
<text transform="translate(133.60,377.04) scale(0.86,1)" font-size="7.9" text-anchor="middle" font-weight="bold" fill="#000" stroke="#000" stroke-width="0.3">15</text>
<text transform="translate(164.50,377.04) scale(0.86,1)" font-size="7.9" text-anchor="middle" font-weight="bold" fill="#000" stroke="#000" stroke-width="0.3">20</text>
<text transform="translate(195.40,377.04) scale(0.86,1)" font-size="7.9" text-anchor="middle" font-weight="bold" fill="#000" stroke="#000" stroke-width="0.3">25</text>
<text transform="translate(226.30,377.04) scale(0.86,1)" font-size="7.9" text-anchor="middle" font-weight="bold" fill="#000" stroke="#000" stroke-width="0.3">30</text>
<text transform="translate(257.20,377.04) scale(0.86,1)" font-size="7.9" text-anchor="middle" font-weight="bold" fill="#000" stroke="#000" stroke-width="0.3">35</text>
<text x="149.25" y="390.60" font-size="8.75" text-anchor="middle" font-weight="normal" fill="#222" stroke="#222" stroke-width="0.2" >Cycle number</text>
<text transform="translate(17.8,291.5) rotate(-90)" font-size="8.6" text-anchor="middle" fill="#222" stroke="#222" stroke-width="0.2">Specific capacity (mAh g<tspan font-size="5.2" dy="-3.2">-1</tspan><tspan dy="3.2">)</tspan></text>
<text x="52.00" y="224.50" font-size="7.8" text-anchor="start" font-weight="bold" fill="#111" stroke="#111" stroke-width="0.2" >0.2 C</text>
<text x="75.90" y="262.80" font-size="7.8" text-anchor="start" font-weight="bold" fill="#111" stroke="#111" stroke-width="0.2" >0.5 C</text>
<text x="114.60" y="276.00" font-size="7.8" text-anchor="start" font-weight="bold" fill="#111" stroke="#111" stroke-width="0.2" >1 C</text>
<text x="140.50" y="296.10" font-size="7.8" text-anchor="start" font-weight="bold" fill="#111" stroke="#111" stroke-width="0.2" >2 C</text>
<text x="171.60" y="316.80" font-size="7.8" text-anchor="start" font-weight="bold" fill="#111" stroke="#111" stroke-width="0.2" >5 C</text>
<text x="200.80" y="331.50" font-size="7.8" text-anchor="start" font-weight="bold" fill="#111" stroke="#111" stroke-width="0.2" >10 C</text>
<text x="234.80" y="279.40" font-size="7.8" text-anchor="start" font-weight="bold" fill="#111" stroke="#111" stroke-width="0.2" >1 C</text>
<line x1="152.20" y1="248.30" x2="171.80" y2="248.30" stroke="#111" stroke-width="1.1"/>
<circle cx="162.3" cy="248.3" r="1.75" fill="#222" stroke="#000" stroke-width="0.5"/>
<line x1="152.20" y1="258.30" x2="171.80" y2="258.30" stroke="#ff1a1a" stroke-width="1.1"/>
<circle cx="162.3" cy="258.3" r="1.75" fill="#ff2a2a" stroke="#e00000" stroke-width="0.5"/>
<text x="175.00" y="251.40" font-size="8.8" text-anchor="start" font-weight="normal" fill="#1a1a1a" stroke="#1a1a1a" stroke-width="0.2" textLength="31.5" lengthAdjust="spacingAndGlyphs">TiO<tspan font-size="6" dy="0.3">2</tspan><tspan dy="-0.3">@G</tspan></text>
<text x="175.00" y="261.30" font-size="8.8" text-anchor="start" font-weight="normal" fill="#1a1a1a" stroke="#1a1a1a" stroke-width="0.2" >TiO<tspan font-size="6" dy="0.3">2</tspan></text>
<text x="268.80" y="224.70" font-size="23.2" text-anchor="start" font-weight="normal" fill="#111" stroke="#111" stroke-width="0.3" >d</text>
<clipPath id="cd"><rect x="306.5" y="205.8" width="210.8" height="160.2"/></clipPath>
<g clip-path="url(#cd)">
<line x1="307.00" y1="215.30" x2="517.00" y2="215.30" stroke="#e03030" stroke-width="0.9"/>
<rect x="307" y="211.3" width="210" height="3.8" fill="#b4b4b4"/>
<line x1="307.00" y1="211.80" x2="517.00" y2="211.80" stroke="#808080" stroke-width="0.9"/>
<line x1="307.00" y1="214.60" x2="517.00" y2="214.60" stroke="#8a8a8a" stroke-width="0.8"/>
<line x1="307" y1="213.2" x2="517" y2="213.2" stroke="#e8e8e8" stroke-width="1.2" stroke-dasharray="1.6 1.1"/>
<polyline points="306.50,260.39 307.67,260.57 308.84,260.37 310.01,260.49 311.18,260.44 312.35,259.93 313.52,259.82 314.69,260.42 315.86,259.89 317.03,259.81 318.20,260.35 319.37,259.87 320.54,260.10 321.71,259.75 322.88,259.81 324.05,259.42 325.22,259.81 326.39,259.99 327.56,259.72 328.73,259.89 329.90,259.84 331.07,259.35 332.24,259.91 333.41,259.77 334.58,259.54 335.75,259.32 336.92,259.99 338.09,259.68 339.26,259.60 340.43,259.44 341.60,259.03 342.77,258.92 343.94,258.22 345.11,258.52 346.28,258.21 347.45,258.58 348.62,258.51 349.79,257.86 350.96,257.87 352.13,257.91 353.30,258.48 354.47,258.04 355.64,258.17 356.81,257.88 357.98,258.02 359.15,257.90 360.32,257.85 361.49,258.02 362.66,257.99 363.83,258.22 365.00,257.45 366.17,257.40 367.34,257.45 368.51,257.67 369.68,257.52 370.85,257.22 372.02,257.89 373.19,258.01 374.36,258.01 375.53,257.78 376.70,257.94 377.87,257.58 379.04,258.12 380.21,257.96 381.38,257.53 382.55,257.15 383.72,257.58 384.89,257.49 386.06,256.88 387.23,257.56 388.40,257.36 389.57,257.26 390.74,257.49 391.91,257.98 393.08,258.17 394.25,257.62 395.42,258.18 396.59,257.84 397.76,258.44 398.93,258.20 400.10,258.71 401.27,258.86 402.44,258.55 403.61,259.02 404.78,258.54 405.95,258.42 407.12,258.91 408.29,258.53 409.46,258.58 410.63,258.67 411.80,258.75 412.97,258.30 414.14,258.13 415.31,258.71 416.48,258.19 417.65,258.63 418.82,258.50 419.99,258.00 421.16,257.99 422.33,257.96 423.50,258.03 424.67,258.01 425.84,258.01 427.01,258.09 428.18,258.37 429.35,258.05 430.52,258.01 431.69,258.27 432.86,257.91 434.03,257.98 435.20,258.55 436.37,258.21 437.54,258.26 438.71,257.85 439.88,258.20 441.05,258.36 442.22,257.94 443.39,258.44 444.56,258.48 445.73,258.04 446.90,258.52 448.07,258.42 449.24,258.62 450.41,258.38 451.58,258.69 452.75,258.74 453.92,258.19 455.09,258.25 456.26,258.43 457.43,258.36 458.60,257.48 459.77,257.33 460.94,257.14 462.11,256.61 463.28,256.53 464.45,256.57 465.62,256.69 466.79,256.95 467.96,256.79 469.13,256.92 470.30,257.32 471.47,256.54 472.64,256.79 473.81,256.73 474.98,256.21 476.15,255.95 477.32,256.24 478.49,255.84 479.66,256.09 480.83,256.58 482.00,257.09 483.17,256.91 484.34,257.26 485.51,257.27 486.68,257.67 487.85,257.35 489.02,257.68 490.19,257.14 491.36,257.27 492.53,257.52 493.70,257.71 494.87,257.36 496.04,257.18 497.21,257.10 498.38,257.42 499.55,257.15 500.72,257.65 501.89,257.78 503.06,257.36 504.23,257.54 505.40,258.07 506.57,258.05 507.74,258.29 508.91,258.03 510.08,257.96 511.25,258.20 512.42,258.71 513.59,258.40 514.76,258.56 515.93,258.73 517.10,258.84" fill="none" stroke="#1a1a1a" stroke-width="3.3" stroke-linejoin="round"/>
<polyline points="306.50,260.39 307.67,260.57 308.84,260.37 310.01,260.49 311.18,260.44 312.35,259.93 313.52,259.82 314.69,260.42 315.86,259.89 317.03,259.81 318.20,260.35 319.37,259.87 320.54,260.10 321.71,259.75 322.88,259.81 324.05,259.42 325.22,259.81 326.39,259.99 327.56,259.72 328.73,259.89 329.90,259.84 331.07,259.35 332.24,259.91 333.41,259.77 334.58,259.54 335.75,259.32 336.92,259.99 338.09,259.68 339.26,259.60 340.43,259.44 341.60,259.03 342.77,258.92 343.94,258.22 345.11,258.52 346.28,258.21 347.45,258.58 348.62,258.51 349.79,257.86 350.96,257.87 352.13,257.91 353.30,258.48 354.47,258.04 355.64,258.17 356.81,257.88 357.98,258.02 359.15,257.90 360.32,257.85 361.49,258.02 362.66,257.99 363.83,258.22 365.00,257.45 366.17,257.40 367.34,257.45 368.51,257.67 369.68,257.52 370.85,257.22 372.02,257.89 373.19,258.01 374.36,258.01 375.53,257.78 376.70,257.94 377.87,257.58 379.04,258.12 380.21,257.96 381.38,257.53 382.55,257.15 383.72,257.58 384.89,257.49 386.06,256.88 387.23,257.56 388.40,257.36 389.57,257.26 390.74,257.49 391.91,257.98 393.08,258.17 394.25,257.62 395.42,258.18 396.59,257.84 397.76,258.44 398.93,258.20 400.10,258.71 401.27,258.86 402.44,258.55 403.61,259.02 404.78,258.54 405.95,258.42 407.12,258.91 408.29,258.53 409.46,258.58 410.63,258.67 411.80,258.75 412.97,258.30 414.14,258.13 415.31,258.71 416.48,258.19 417.65,258.63 418.82,258.50 419.99,258.00 421.16,257.99 422.33,257.96 423.50,258.03 424.67,258.01 425.84,258.01 427.01,258.09 428.18,258.37 429.35,258.05 430.52,258.01 431.69,258.27 432.86,257.91 434.03,257.98 435.20,258.55 436.37,258.21 437.54,258.26 438.71,257.85 439.88,258.20 441.05,258.36 442.22,257.94 443.39,258.44 444.56,258.48 445.73,258.04 446.90,258.52 448.07,258.42 449.24,258.62 450.41,258.38 451.58,258.69 452.75,258.74 453.92,258.19 455.09,258.25 456.26,258.43 457.43,258.36 458.60,257.48 459.77,257.33 460.94,257.14 462.11,256.61 463.28,256.53 464.45,256.57 465.62,256.69 466.79,256.95 467.96,256.79 469.13,256.92 470.30,257.32 471.47,256.54 472.64,256.79 473.81,256.73 474.98,256.21 476.15,255.95 477.32,256.24 478.49,255.84 479.66,256.09 480.83,256.58 482.00,257.09 483.17,256.91 484.34,257.26 485.51,257.27 486.68,257.67 487.85,257.35 489.02,257.68 490.19,257.14 491.36,257.27 492.53,257.52 493.70,257.71 494.87,257.36 496.04,257.18 497.21,257.10 498.38,257.42 499.55,257.15 500.72,257.65 501.89,257.78 503.06,257.36 504.23,257.54 505.40,258.07 506.57,258.05 507.74,258.29 508.91,258.03 510.08,257.96 511.25,258.20 512.42,258.71 513.59,258.40 514.76,258.56 515.93,258.73 517.10,258.84" fill="none" stroke="#555" stroke-width="0.8" stroke-dasharray="1 1.3"/>
<polyline points="306.50,298.23 307.67,298.59 308.84,297.94 310.01,297.78 311.18,298.48 312.35,298.39 313.52,298.43 314.69,297.95 315.86,298.32 317.03,298.26 318.20,297.65 319.37,298.02 320.54,298.06 321.71,297.87 322.88,297.72 324.05,297.55 325.22,297.62 326.39,297.55 327.56,297.44 328.73,297.88 329.90,297.66 331.07,298.10 332.24,297.51 333.41,298.22 334.58,298.07 335.75,298.27 336.92,298.27 338.09,298.30 339.26,298.06 340.43,297.42 341.60,297.82 342.77,297.17 343.94,297.09 345.11,297.19 346.28,296.89 347.45,296.62 348.62,296.85 349.79,296.58 350.96,296.35 352.13,296.27 353.30,296.74 354.47,296.43 355.64,296.66 356.81,296.30 357.98,296.17 359.15,296.43 360.32,296.64 361.49,296.11 362.66,296.60 363.83,296.69 365.00,296.59 366.17,296.59 367.34,295.93 368.51,296.41 369.68,296.59 370.85,295.93 372.02,296.09 373.19,296.08 374.36,296.28 375.53,296.18 376.70,296.21 377.87,296.44 379.04,295.81 380.21,295.84 381.38,295.85 382.55,295.79 383.72,295.70 384.89,296.37 386.06,296.22 387.23,295.55 388.40,295.83 389.57,295.63 390.74,295.58 391.91,295.55 393.08,295.74 394.25,295.63 395.42,295.40 396.59,295.21 397.76,295.27 398.93,295.05 400.10,295.34 401.27,295.61 402.44,295.47 403.61,295.36 404.78,295.58 405.95,295.87 407.12,296.18 408.29,296.46 409.46,296.27 410.63,296.74 411.80,296.58 412.97,296.40 414.14,296.33 415.31,296.41 416.48,296.56 417.65,296.31 418.82,296.51 419.99,296.30 421.16,296.11 422.33,296.32 423.50,296.42 424.67,295.90 425.84,296.16 427.01,296.14 428.18,296.49 429.35,296.51 430.52,296.04 431.69,296.44 432.86,296.33 434.03,295.89 435.20,296.03 436.37,295.73 437.54,296.26 438.71,296.12 439.88,296.28 441.05,296.18 442.22,296.06 443.39,296.09 444.56,295.94 445.73,295.55 446.90,295.91 448.07,295.43 449.24,295.51 450.41,295.95 451.58,295.30 452.75,295.26 453.92,295.20 455.09,295.76 456.26,295.13 457.43,294.93 458.60,295.52 459.77,294.87 460.94,295.38 462.11,295.17 463.28,295.29 464.45,295.42 465.62,295.15 466.79,295.37 467.96,294.79 469.13,295.41 470.30,295.25 471.47,295.44 472.64,294.99 473.81,295.54 474.98,295.73 476.15,295.07 477.32,295.31 478.49,295.54 479.66,295.79 480.83,295.36 482.00,295.34 483.17,295.44 484.34,295.77 485.51,295.91 486.68,295.66 487.85,295.68 489.02,295.55 490.19,295.18 491.36,294.90 492.53,294.30 493.70,294.30 494.87,294.35 496.04,293.56 497.21,293.50 498.38,292.83 499.55,293.12 500.72,293.03 501.89,292.83 503.06,292.56 504.23,292.40 505.40,292.39 506.57,292.49 507.74,291.78 508.91,291.63 510.08,292.05 511.25,292.07 512.42,291.65 513.59,291.48 514.76,291.59 515.93,291.06 517.10,291.01" fill="none" stroke="#ff1414" stroke-width="3.6" stroke-linejoin="round"/>
<polyline points="306.50,298.23 307.67,298.59 308.84,297.94 310.01,297.78 311.18,298.48 312.35,298.39 313.52,298.43 314.69,297.95 315.86,298.32 317.03,298.26 318.20,297.65 319.37,298.02 320.54,298.06 321.71,297.87 322.88,297.72 324.05,297.55 325.22,297.62 326.39,297.55 327.56,297.44 328.73,297.88 329.90,297.66 331.07,298.10 332.24,297.51 333.41,298.22 334.58,298.07 335.75,298.27 336.92,298.27 338.09,298.30 339.26,298.06 340.43,297.42 341.60,297.82 342.77,297.17 343.94,297.09 345.11,297.19 346.28,296.89 347.45,296.62 348.62,296.85 349.79,296.58 350.96,296.35 352.13,296.27 353.30,296.74 354.47,296.43 355.64,296.66 356.81,296.30 357.98,296.17 359.15,296.43 360.32,296.64 361.49,296.11 362.66,296.60 363.83,296.69 365.00,296.59 366.17,296.59 367.34,295.93 368.51,296.41 369.68,296.59 370.85,295.93 372.02,296.09 373.19,296.08 374.36,296.28 375.53,296.18 376.70,296.21 377.87,296.44 379.04,295.81 380.21,295.84 381.38,295.85 382.55,295.79 383.72,295.70 384.89,296.37 386.06,296.22 387.23,295.55 388.40,295.83 389.57,295.63 390.74,295.58 391.91,295.55 393.08,295.74 394.25,295.63 395.42,295.40 396.59,295.21 397.76,295.27 398.93,295.05 400.10,295.34 401.27,295.61 402.44,295.47 403.61,295.36 404.78,295.58 405.95,295.87 407.12,296.18 408.29,296.46 409.46,296.27 410.63,296.74 411.80,296.58 412.97,296.40 414.14,296.33 415.31,296.41 416.48,296.56 417.65,296.31 418.82,296.51 419.99,296.30 421.16,296.11 422.33,296.32 423.50,296.42 424.67,295.90 425.84,296.16 427.01,296.14 428.18,296.49 429.35,296.51 430.52,296.04 431.69,296.44 432.86,296.33 434.03,295.89 435.20,296.03 436.37,295.73 437.54,296.26 438.71,296.12 439.88,296.28 441.05,296.18 442.22,296.06 443.39,296.09 444.56,295.94 445.73,295.55 446.90,295.91 448.07,295.43 449.24,295.51 450.41,295.95 451.58,295.30 452.75,295.26 453.92,295.20 455.09,295.76 456.26,295.13 457.43,294.93 458.60,295.52 459.77,294.87 460.94,295.38 462.11,295.17 463.28,295.29 464.45,295.42 465.62,295.15 466.79,295.37 467.96,294.79 469.13,295.41 470.30,295.25 471.47,295.44 472.64,294.99 473.81,295.54 474.98,295.73 476.15,295.07 477.32,295.31 478.49,295.54 479.66,295.79 480.83,295.36 482.00,295.34 483.17,295.44 484.34,295.77 485.51,295.91 486.68,295.66 487.85,295.68 489.02,295.55 490.19,295.18 491.36,294.90 492.53,294.30 493.70,294.30 494.87,294.35 496.04,293.56 497.21,293.50 498.38,292.83 499.55,293.12 500.72,293.03 501.89,292.83 503.06,292.56 504.23,292.40 505.40,292.39 506.57,292.49 507.74,291.78 508.91,291.63 510.08,292.05 511.25,292.07 512.42,291.65 513.59,291.48 514.76,291.59 515.93,291.06 517.10,291.01" fill="none" stroke="#ff6060" stroke-width="0.8" stroke-dasharray="1 1.3"/>
</g>
<line x1="306.50" y1="205.80" x2="517.30" y2="205.80" stroke="#7a7a7a" stroke-width="1.4"/>
<line x1="306.50" y1="366.40" x2="517.30" y2="366.40" stroke="#141414" stroke-width="1.2"/>
<line x1="306.50" y1="205.80" x2="306.50" y2="366.40" stroke="#141414" stroke-width="1.2"/>
<line x1="517.30" y1="205.80" x2="517.30" y2="366.40" stroke="#b060c0" stroke-width="1.2"/>
<line x1="306.50" y1="366.40" x2="306.50" y2="369.20" stroke="#141414" stroke-width="0.9"/>
<line x1="329.90" y1="366.40" x2="329.90" y2="369.20" stroke="#141414" stroke-width="0.9"/>
<line x1="353.30" y1="366.40" x2="353.30" y2="369.20" stroke="#141414" stroke-width="0.9"/>
<line x1="376.70" y1="366.40" x2="376.70" y2="369.20" stroke="#141414" stroke-width="0.9"/>
<line x1="400.10" y1="366.40" x2="400.10" y2="369.20" stroke="#141414" stroke-width="0.9"/>
<line x1="423.50" y1="366.40" x2="423.50" y2="369.20" stroke="#141414" stroke-width="0.9"/>
<line x1="446.90" y1="366.40" x2="446.90" y2="369.20" stroke="#141414" stroke-width="0.9"/>
<line x1="470.30" y1="366.40" x2="470.30" y2="369.20" stroke="#141414" stroke-width="0.9"/>
<line x1="493.70" y1="366.40" x2="493.70" y2="369.20" stroke="#141414" stroke-width="0.9"/>
<line x1="517.10" y1="366.40" x2="517.10" y2="369.20" stroke="#141414" stroke-width="0.9"/>
<line x1="318.20" y1="366.40" x2="318.20" y2="368.20" stroke="#141414" stroke-width="0.9"/>
<line x1="341.60" y1="366.40" x2="341.60" y2="368.20" stroke="#141414" stroke-width="0.9"/>
<line x1="365.00" y1="366.40" x2="365.00" y2="368.20" stroke="#141414" stroke-width="0.9"/>
<line x1="388.40" y1="366.40" x2="388.40" y2="368.20" stroke="#141414" stroke-width="0.9"/>
<line x1="411.80" y1="366.40" x2="411.80" y2="368.20" stroke="#141414" stroke-width="0.9"/>
<line x1="435.20" y1="366.40" x2="435.20" y2="368.20" stroke="#141414" stroke-width="0.9"/>
<line x1="458.60" y1="366.40" x2="458.60" y2="368.20" stroke="#141414" stroke-width="0.9"/>
<line x1="482.00" y1="366.40" x2="482.00" y2="368.20" stroke="#141414" stroke-width="0.9"/>
<line x1="505.40" y1="366.40" x2="505.40" y2="368.20" stroke="#141414" stroke-width="0.9"/>
<line x1="306.50" y1="365.40" x2="303.70" y2="365.40" stroke="#141414" stroke-width="0.9"/>
<line x1="306.50" y1="338.80" x2="303.70" y2="338.80" stroke="#141414" stroke-width="0.9"/>
<line x1="306.50" y1="312.20" x2="303.70" y2="312.20" stroke="#141414" stroke-width="0.9"/>
<line x1="306.50" y1="285.60" x2="303.70" y2="285.60" stroke="#141414" stroke-width="0.9"/>
<line x1="306.50" y1="259.00" x2="303.70" y2="259.00" stroke="#141414" stroke-width="0.9"/>
<line x1="306.50" y1="232.40" x2="303.70" y2="232.40" stroke="#141414" stroke-width="0.9"/>
<line x1="306.50" y1="205.80" x2="303.70" y2="205.80" stroke="#141414" stroke-width="0.9"/>
<line x1="306.50" y1="352.10" x2="304.70" y2="352.10" stroke="#141414" stroke-width="0.9"/>
<line x1="306.50" y1="325.50" x2="304.70" y2="325.50" stroke="#141414" stroke-width="0.9"/>
<line x1="306.50" y1="298.90" x2="304.70" y2="298.90" stroke="#141414" stroke-width="0.9"/>
<line x1="306.50" y1="272.30" x2="304.70" y2="272.30" stroke="#141414" stroke-width="0.9"/>
<line x1="306.50" y1="245.70" x2="304.70" y2="245.70" stroke="#141414" stroke-width="0.9"/>
<line x1="306.50" y1="219.10" x2="304.70" y2="219.10" stroke="#141414" stroke-width="0.9"/>
<line x1="517.30" y1="366.00" x2="520.10" y2="366.00" stroke="#a448b4" stroke-width="0.9"/>
<line x1="517.30" y1="335.50" x2="520.10" y2="335.50" stroke="#a448b4" stroke-width="0.9"/>
<line x1="517.30" y1="305.00" x2="520.10" y2="305.00" stroke="#a448b4" stroke-width="0.9"/>
<line x1="517.30" y1="274.50" x2="520.10" y2="274.50" stroke="#a448b4" stroke-width="0.9"/>
<line x1="517.30" y1="244.00" x2="520.10" y2="244.00" stroke="#a448b4" stroke-width="0.9"/>
<line x1="517.30" y1="213.50" x2="520.10" y2="213.50" stroke="#a448b4" stroke-width="0.9"/>
<line x1="517.30" y1="350.75" x2="519.10" y2="350.75" stroke="#a448b4" stroke-width="0.9"/>
<line x1="517.30" y1="320.25" x2="519.10" y2="320.25" stroke="#a448b4" stroke-width="0.9"/>
<line x1="517.30" y1="289.75" x2="519.10" y2="289.75" stroke="#a448b4" stroke-width="0.9"/>
<line x1="517.30" y1="259.25" x2="519.10" y2="259.25" stroke="#a448b4" stroke-width="0.9"/>
<line x1="517.30" y1="228.75" x2="519.10" y2="228.75" stroke="#a448b4" stroke-width="0.9"/>
<text transform="translate(301.30,368.94) scale(0.86,1)" font-size="7.9" text-anchor="end" font-weight="bold" fill="#000" stroke="#000" stroke-width="0.3">0</text>
<text transform="translate(301.30,342.34) scale(0.86,1)" font-size="7.9" text-anchor="end" font-weight="bold" fill="#000" stroke="#000" stroke-width="0.3">40</text>
<text transform="translate(301.30,315.74) scale(0.86,1)" font-size="7.9" text-anchor="end" font-weight="bold" fill="#000" stroke="#000" stroke-width="0.3">80</text>
<text transform="translate(301.30,289.14) scale(0.86,1)" font-size="7.9" text-anchor="end" font-weight="bold" fill="#000" stroke="#000" stroke-width="0.3">120</text>
<text transform="translate(301.30,262.54) scale(0.86,1)" font-size="7.9" text-anchor="end" font-weight="bold" fill="#000" stroke="#000" stroke-width="0.3">160</text>
<text transform="translate(301.30,235.94) scale(0.86,1)" font-size="7.9" text-anchor="end" font-weight="bold" fill="#000" stroke="#000" stroke-width="0.3">200</text>
<text transform="translate(301.30,209.34) scale(0.86,1)" font-size="7.9" text-anchor="end" font-weight="bold" fill="#000" stroke="#000" stroke-width="0.3">240</text>
<text transform="translate(523.50,368.95) scale(0.86,1)" font-size="8.2" text-anchor="start" font-weight="bold" fill="#8e1f9e" stroke="#8e1f9e" stroke-width="0.3">0</text>
<text transform="translate(523.50,338.45) scale(0.86,1)" font-size="8.2" text-anchor="start" font-weight="bold" fill="#8e1f9e" stroke="#8e1f9e" stroke-width="0.3">20</text>
<text transform="translate(523.50,307.95) scale(0.86,1)" font-size="8.2" text-anchor="start" font-weight="bold" fill="#8e1f9e" stroke="#8e1f9e" stroke-width="0.3">40</text>
<text transform="translate(523.50,277.45) scale(0.86,1)" font-size="8.2" text-anchor="start" font-weight="bold" fill="#8e1f9e" stroke="#8e1f9e" stroke-width="0.3">60</text>
<text transform="translate(523.50,246.95) scale(0.86,1)" font-size="8.2" text-anchor="start" font-weight="bold" fill="#8e1f9e" stroke="#8e1f9e" stroke-width="0.3">80</text>
<text transform="translate(523.50,216.45) scale(0.86,1)" font-size="8.2" text-anchor="start" font-weight="bold" fill="#8e1f9e" stroke="#8e1f9e" stroke-width="0.3">100</text>
<text transform="translate(306.50,378.04) scale(0.86,1)" font-size="7.9" text-anchor="middle" font-weight="bold" fill="#000" stroke="#000" stroke-width="0.3">0</text>
<text transform="translate(329.90,378.04) scale(0.86,1)" font-size="7.9" text-anchor="middle" font-weight="bold" fill="#000" stroke="#000" stroke-width="0.3">20</text>
<text transform="translate(353.30,378.04) scale(0.86,1)" font-size="7.9" text-anchor="middle" font-weight="bold" fill="#000" stroke="#000" stroke-width="0.3">40</text>
<text transform="translate(376.70,378.04) scale(0.86,1)" font-size="7.9" text-anchor="middle" font-weight="bold" fill="#000" stroke="#000" stroke-width="0.3">60</text>
<text transform="translate(400.10,378.04) scale(0.86,1)" font-size="7.9" text-anchor="middle" font-weight="bold" fill="#000" stroke="#000" stroke-width="0.3">80</text>
<text transform="translate(423.50,378.04) scale(0.86,1)" font-size="7.9" text-anchor="middle" font-weight="bold" fill="#000" stroke="#000" stroke-width="0.3">100</text>
<text transform="translate(446.90,378.04) scale(0.86,1)" font-size="7.9" text-anchor="middle" font-weight="bold" fill="#000" stroke="#000" stroke-width="0.3">120</text>
<text transform="translate(470.30,378.04) scale(0.86,1)" font-size="7.9" text-anchor="middle" font-weight="bold" fill="#000" stroke="#000" stroke-width="0.3">140</text>
<text transform="translate(493.70,378.04) scale(0.86,1)" font-size="7.9" text-anchor="middle" font-weight="bold" fill="#000" stroke="#000" stroke-width="0.3">160</text>
<text transform="translate(517.10,378.04) scale(0.86,1)" font-size="7.9" text-anchor="middle" font-weight="bold" fill="#000" stroke="#000" stroke-width="0.3">180</text>
<text x="411.20" y="391.00" font-size="8.7" text-anchor="middle" font-weight="normal" fill="#222" stroke="#222" stroke-width="0.2" >Cycle number</text>
<text transform="translate(283.3,286) rotate(-90)" font-size="8.5" text-anchor="middle" fill="#222" stroke="#222" stroke-width="0.2">Specific capacity (mAh g<tspan font-size="5.1" dy="-3.1">-1</tspan><tspan dy="3.1">)</tspan></text>
<text transform="translate(544.7,285) rotate(-90)" font-size="8.5" text-anchor="middle" fill="#8e1f9e" stroke="#8e1f9e" stroke-width="0.2">Coulombic efficiency (%)</text>
<line x1="325.40" y1="230.00" x2="344.20" y2="230.00" stroke="#111" stroke-width="1.2"/>
<circle cx="334" cy="230" r="1.8" fill="#222" stroke="#000" stroke-width="0.5"/>
<line x1="325.40" y1="240.80" x2="344.20" y2="240.80" stroke="#ff1a1a" stroke-width="1.2"/>
<circle cx="334" cy="240.8" r="1.8" fill="#ff2a2a" stroke="#e00000" stroke-width="0.5"/>
<text x="346.60" y="233.30" font-size="9.2" text-anchor="start" font-weight="normal" fill="#1a1a1a" stroke="#1a1a1a" stroke-width="0.2" textLength="31.5" lengthAdjust="spacingAndGlyphs">TiO<tspan font-size="6.2" dy="0.3">2</tspan><tspan dy="-0.3">@G</tspan></text>
<text x="346.60" y="244.10" font-size="9.2" text-anchor="start" font-weight="normal" fill="#1a1a1a" stroke="#1a1a1a" stroke-width="0.2" >TiO<tspan font-size="6.2" dy="0.3">2</tspan></text>
<text x="405.60" y="249.90" font-size="8.6" text-anchor="start" font-weight="bold" fill="#111" stroke="#111" stroke-width="0.2" >1 C</text>
<polyline points="485.4,218.7 485.4,229.3 511,229.3" fill="none" stroke="#1a1a1a" stroke-width="1.0"/>
<path d="M514.6,229.3 L509.2,227.6 L510.4,229.3 L509.2,231.0 Z" fill="#111"/>
</g></svg>
</body></html>
